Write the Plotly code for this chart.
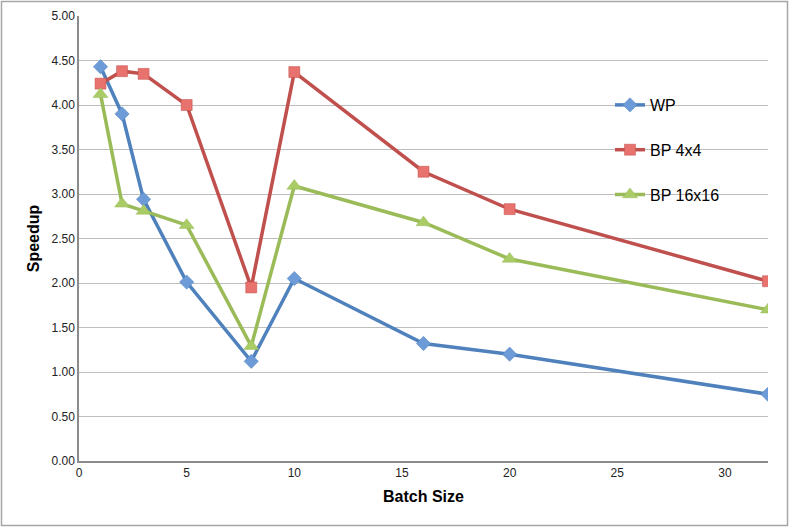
import plotly.graph_objects as go

batch = [1, 2, 3, 5, 8, 10, 16, 20, 32]
wp = [4.43, 3.90, 2.94, 2.01, 1.12, 2.05, 1.32, 1.20, 0.75]
bp4 = [4.24, 4.38, 4.35, 4.00, 1.95, 4.37, 3.25, 2.83, 2.02]
bp16 = [4.12, 2.89, 2.81, 2.65, 1.29, 3.09, 2.68, 2.27, 1.70]

series = [
    ("WP", wp, "#4F81BD", "#6D9BD8", "diamond", 11),
    ("BP 4x4", bp4, "#C0504D", "#E8726E", "square", 11),
    ("BP 16x16", bp16, "#9BBB59", "#A9CC66", "triangle-up", 13),
]

fig = go.Figure()
for i, (name, vals, lc, mc, sym, ms) in enumerate(series):
    fig.add_trace(go.Scatter(
        x=batch, y=vals, name=name, mode="lines+markers",
        line=dict(color=lc, width=3.5),
        marker=dict(symbol=sym, size=ms, color=mc, line=dict(color=lc, width=0.5)),
        legendgroup=f"g{i}",
    ))

L, R, T, B = 79, 768, 16, 461
W, H = 789, 527
def px(x):
    return (x - L) / (R - L)
def py(y):
    return 1 - (y - T) / (B - T)

fig.update_layout(
    width=W, height=H,
    margin=dict(l=L, r=W - R, t=T, b=H - B, autoexpand=False),
    paper_bgcolor="white", plot_bgcolor="white",
    font=dict(family="Liberation Sans, Arial, sans-serif", size=11, color="#222"),
    showlegend=True,
    legend=dict(x=px(610), y=py(88), xanchor="left", yanchor="top",
                bgcolor="rgba(0,0,0,0)", font=dict(size=16, color="#000"),
                tracegroupgap=21, traceorder="grouped", itemwidth=30),
    xaxis=dict(range=[0, 32], tickvals=[0, 5, 10, 15, 20, 25, 30], showgrid=False,
               showline=True, linecolor="#8c8c8c", linewidth=1.5, zeroline=False,
               ticks="", tickfont=dict(size=12, color="#222"), automargin=False,
               title=dict(text="<b>Batch Size</b>", font=dict(size=16, color="#000"), standoff=12)),
    yaxis=dict(range=[0, 5], tickvals=[i * 0.5 for i in range(11)], tickformat=".2f",
               showgrid=True, gridcolor="#BDBDBD", gridwidth=1,
               showline=True, linecolor="#8c8c8c", linewidth=1.5, zeroline=False,
               ticks="", tickfont=dict(size=12, color="#222"), automargin=False,
               title=dict(text="<b>Speedup</b>", font=dict(size=16, color="#000"), standoff=8)),
    shapes=[
        dict(type="rect", xref="paper", yref="paper", x0=px(587), x1=px(762),
             y0=py(215), y1=py(72), fillcolor="white", line=dict(width=0), layer="between"),
        dict(type="rect", xref="paper", yref="paper", x0=px(1.5), x1=px(787.5),
             y0=py(525.5), y1=py(1.5), line=dict(color="#A6A6A6", width=1.5), layer="below"),
    ],
)

fig.write_html("out.html", config={"displayModeBar": False},
               post_script="document.body.style.margin='0';")
